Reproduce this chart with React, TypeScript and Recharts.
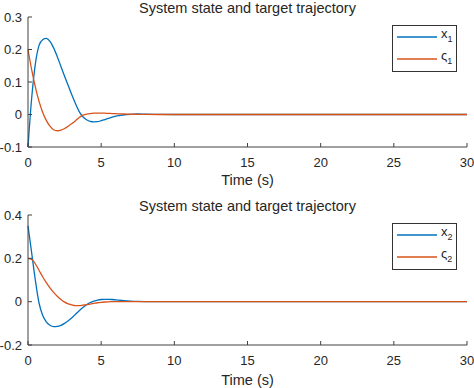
import React from 'react';
import {LineChart, Line, XAxis, YAxis, Legend} from 'recharts';

// time samples (s) and the four traces
const TIME = [0, 0.25, 0.5, 0.75, 1, 1.25, 1.5, 1.75, 2, 2.25, 2.5, 2.75, 3, 3.25, 3.5, 3.75, 4, 4.25, 4.5, 4.75, 5, 5.25, 5.5, 5.75, 6, 6.5, 7, 7.5, 8, 9, 10, 15, 20, 25, 30];
const X1 = [-0.1, 0.05, 0.155, 0.212, 0.23, 0.234, 0.225, 0.205, 0.178, 0.148, 0.118, 0.089, 0.06, 0.033, 0.009, -0.007, -0.016, -0.021, -0.0225, -0.022, -0.019, -0.0155, -0.012, -0.008, -0.005, -0.0015, 0.0005, 0.0015, 0.001, 0.0003, 0, 0, 0, 0, 0];
const S1 = [0.2, 0.138, 0.085, 0.041, 0.007, -0.018, -0.036, -0.047, -0.05, -0.048, -0.043, -0.036, -0.028, -0.019, -0.009, -0.002, 0.001, 0.003, 0.004, 0.0045, 0.0045, 0.004, 0.0035, 0.003, 0.0025, 0.0015, 0.0008, 0.0004, 0.0002, 0, 0, 0, 0, 0, 0];
const X2 = [0.35, 0.225, 0.1, -0.005, -0.063, -0.093, -0.109, -0.115, -0.114, -0.109, -0.1, -0.088, -0.074, -0.058, -0.042, -0.027, -0.014, -0.004, 0.003, 0.007, 0.01, 0.011, 0.011, 0.01, 0.008, 0.005, 0.0025, 0.001, 0.0004, 0, 0, 0, 0, 0, 0];
const S2 = [0.2, 0.195, 0.175, 0.145, 0.115, 0.088, 0.064, 0.043, 0.025, 0.01, -0.002, -0.01, -0.015, -0.018, -0.018, -0.016, -0.014, -0.011, -0.008, -0.005, -0.003, -0.0015, -0.0005, 0, 0.0005, 0.0005, 0.0003, 0, 0, 0, 0, 0, 0, 0, 0];

const X_TICKS = [0, 5, 10, 15, 20, 25, 30];
const Y1_TICKS = [-0.1, 0, 0.1, 0.2, 0.3];
const Y2_TICKS = [-0.2, 0, 0.2, 0.4];

const TITLE = 'System state and target trajectory';
const X_LABEL = 'Time (s)';

const BLUE = '#0072BD';
const ORANGE = '#D95319';
const INK = '#262626';
const FONT = '"Liberation Sans", Arial, Helvetica, sans-serif';

const legendBox = (idx: string) => () => (
  <div style={{position: 'relative', width: 65, height: 47, boxSizing: 'border-box', border: '1px solid #333', background: '#fff', fontFamily: FONT, color: INK}}>
    {[{c: BLUE, n: 'x'}, {c: ORANGE, n: 'ς'}].map((it, i) => (
      <div key={i} style={{position: 'absolute', left: 0, top: 11 + i * 22, width: 63}}>
        <svg width={46} height={4} style={{position: 'absolute', left: 2, top: -2}}>
          <line x1={2} x2={42} y1={2} y2={2} stroke={it.c} strokeWidth={1.3} />
        </svg>
        <div style={{position: 'absolute', left: 48, top: -10, fontSize: 13, lineHeight: '14px', whiteSpace: 'nowrap'}}>
          {it.n}<span style={{fontSize: 9, position: 'relative', top: 4}}>{idx}</span>
        </div>
      </div>
    ))}
  </div>
);

const Panel = ({a, b, idx, yTicks, top, axisH, labelOff, titleY}: any) => {
  const data = TIME.map((t, i) => ({t, a: a[i], b: b[i]}));
  const dom = [yTicks[0], yTicks[yTicks.length - 1]];
  const axisLine = {stroke: '#404040', strokeWidth: 1};
  return (
    <LineChart width={474} height={194} data={data} margin={{top, right: 7, bottom: 0, left: 0}}>
      <text x={247.5} y={titleY} textAnchor="middle" fontSize={14.5} fontFamily={FONT} fill={INK}>{TITLE}</text>
      <XAxis dataKey="t" type="number" domain={[0, 30]} ticks={X_TICKS} height={axisH}
        tickSize={-4} tickMargin={14.5} axisLine={axisLine} tickLine={axisLine}
        tick={{fontSize: 13, fill: INK, fontFamily: FONT}}
        label={{value: X_LABEL, position: 'insideBottom', offset: labelOff, fontSize: 14.5, fill: INK, fontFamily: FONT}} />
      <XAxis xAxisId="top" orientation="top" dataKey="t" type="number" domain={[0, 30]} ticks={X_TICKS} height={0}
        tickSize={-4} tick={false} axisLine={axisLine} tickLine={axisLine} allowDataOverflow />
      <YAxis type="number" domain={dom} ticks={yTicks} width={28} allowDataOverflow
        tickSize={-4} tickMargin={10} axisLine={axisLine} tickLine={axisLine}
        tick={{fontSize: 13, fill: INK, fontFamily: FONT}} />
      <YAxis yAxisId="right" orientation="right" type="number" domain={dom} ticks={yTicks} width={0} allowDataOverflow
        tickSize={-4} tick={false} axisLine={axisLine} tickLine={axisLine} />
      <Legend layout="vertical" align="center" verticalAlign="middle" content={legendBox(idx)}
        wrapperStyle={{left: 392, top: 25 + (top - 17), width: 65, height: 47}} />
      <Line dataKey="a" type="monotone" stroke={BLUE} strokeWidth={1.3} dot={false} isAnimationActive={false} />
      <Line dataKey="b" type="monotone" stroke={ORANGE} strokeWidth={1.3} dot={false} isAnimationActive={false} />
    </LineChart>
  );
};

export default function App() {
  return (
    <div style={{position: 'absolute', left: 0, top: 0, width: 474, height: 388, background: '#fff'}}>
      <Panel a={X1} b={S1} idx="1" yTicks={Y1_TICKS} top={17} axisH={47} labelOff={9.5} titleY={13} />
      <Panel a={X2} b={S2} idx="2" yTicks={Y2_TICKS} top={21} axisH={43} labelOff={3.5} titleY={16.5} />
    </div>
  );
}
